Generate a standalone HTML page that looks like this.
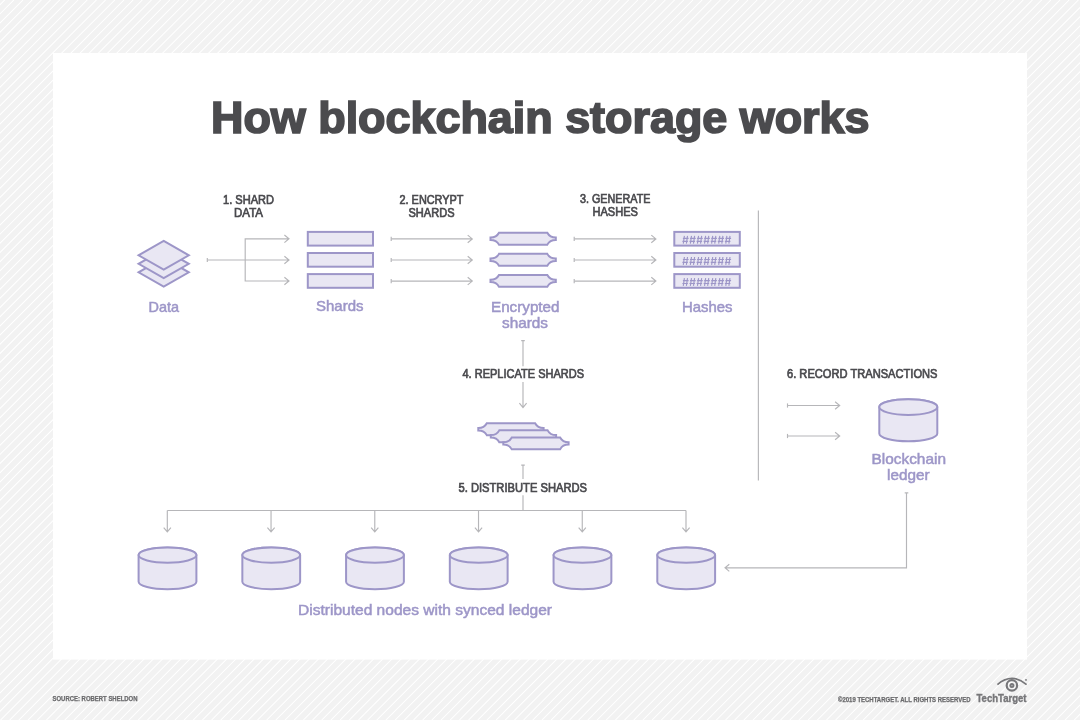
<!DOCTYPE html>
<html><head><meta charset="utf-8"><style>
html,body{margin:0;padding:0;width:1080px;height:720px;overflow:hidden;background:#f2f2f2}
svg{display:block;font-family:"Liberation Sans",sans-serif;will-change:transform}
</style></head><body>
<svg width="1080" height="720" viewBox="0 0 1080 720">
<rect width="1080" height="720" fill="#f2f2f2"/>
<path d="M-22.83 0L-742.83 720M-13.65 0L-733.65 720M-4.48 0L-724.48 720M4.70 0L-715.30 720M13.88 0L-706.12 720M23.05 0L-696.95 720M32.23 0L-687.77 720M41.41 0L-678.59 720M50.58 0L-669.41 720M59.76 0L-660.24 720M68.94 0L-651.06 720M78.12 0L-641.88 720M87.29 0L-632.71 720M96.47 0L-623.53 720M105.65 0L-614.35 720M114.82 0L-605.18 720M124.00 0L-596.00 720M133.18 0L-586.82 720M142.35 0L-577.65 720M151.53 0L-568.47 720M160.71 0L-559.29 720M169.89 0L-550.11 720M179.06 0L-540.94 720M188.24 0L-531.76 720M197.42 0L-522.58 720M206.59 0L-513.41 720M215.77 0L-504.23 720M224.95 0L-495.05 720M234.12 0L-485.88 720M243.30 0L-476.70 720M252.48 0L-467.52 720M261.66 0L-458.34 720M270.83 0L-449.17 720M280.01 0L-439.99 720M289.19 0L-430.81 720M298.36 0L-421.64 720M307.54 0L-412.46 720M316.72 0L-403.28 720M325.89 0L-394.11 720M335.07 0L-384.93 720M344.25 0L-375.75 720M353.43 0L-366.57 720M362.60 0L-357.40 720M371.78 0L-348.22 720M380.96 0L-339.04 720M390.13 0L-329.87 720M399.31 0L-320.69 720M408.49 0L-311.51 720M417.67 0L-302.33 720M426.84 0L-293.16 720M436.02 0L-283.98 720M445.20 0L-274.80 720M454.37 0L-265.63 720M463.55 0L-256.45 720M472.73 0L-247.27 720M481.90 0L-238.10 720M491.08 0L-228.92 720M500.26 0L-219.74 720M509.44 0L-210.56 720M518.61 0L-201.39 720M527.79 0L-192.21 720M536.97 0L-183.03 720M546.14 0L-173.86 720M555.32 0L-164.68 720M564.50 0L-155.50 720M573.67 0L-146.33 720M582.85 0L-137.15 720M592.03 0L-127.97 720M601.21 0L-118.79 720M610.38 0L-109.62 720M619.56 0L-100.44 720M628.74 0L-91.26 720M637.91 0L-82.09 720M647.09 0L-72.91 720M656.27 0L-63.73 720M665.44 0L-54.56 720M674.62 0L-45.38 720M683.80 0L-36.20 720M692.98 0L-27.02 720M702.15 0L-17.85 720M711.33 0L-8.67 720M720.51 0L0.51 720M729.68 0L9.68 720M738.86 0L18.86 720M748.04 0L28.04 720M757.21 0L37.21 720M766.39 0L46.39 720M775.57 0L55.57 720M784.75 0L64.75 720M793.92 0L73.92 720M803.10 0L83.10 720M812.28 0L92.28 720M821.45 0L101.45 720M830.63 0L110.63 720M839.81 0L119.81 720M848.98 0L128.98 720M858.16 0L138.16 720M867.34 0L147.34 720M876.52 0L156.52 720M885.69 0L165.69 720M894.87 0L174.87 720M904.05 0L184.05 720M913.22 0L193.22 720M922.40 0L202.40 720M931.58 0L211.58 720M940.75 0L220.75 720M949.93 0L229.93 720M959.11 0L239.11 720M968.29 0L248.29 720M977.46 0L257.46 720M986.64 0L266.64 720M995.82 0L275.82 720M1004.99 0L284.99 720M1014.17 0L294.17 720M1023.35 0L303.35 720M1032.52 0L312.52 720M1041.70 0L321.70 720M1050.88 0L330.88 720M1060.06 0L340.06 720M1069.23 0L349.23 720M1078.41 0L358.41 720M1087.59 0L367.59 720M1096.76 0L376.76 720M1105.94 0L385.94 720M1115.12 0L395.12 720M1124.29 0L404.29 720M1133.47 0L413.47 720M1142.65 0L422.65 720M1151.83 0L431.83 720M1161.00 0L441.00 720M1170.18 0L450.18 720M1179.36 0L459.36 720M1188.53 0L468.53 720M1197.71 0L477.71 720M1206.89 0L486.89 720M1216.06 0L496.06 720M1225.24 0L505.24 720M1234.42 0L514.42 720M1243.59 0L523.59 720M1252.77 0L532.77 720M1261.95 0L541.95 720M1271.13 0L551.13 720M1280.30 0L560.30 720M1289.48 0L569.48 720M1298.66 0L578.66 720M1307.83 0L587.83 720M1317.01 0L597.01 720M1326.19 0L606.19 720M1335.36 0L615.36 720M1344.54 0L624.54 720M1353.72 0L633.72 720M1362.90 0L642.90 720M1372.07 0L652.07 720M1381.25 0L661.25 720M1390.43 0L670.43 720M1399.60 0L679.60 720M1408.78 0L688.78 720M1417.96 0L697.96 720M1427.13 0L707.13 720M1436.31 0L716.31 720M1445.49 0L725.49 720M1454.67 0L734.67 720M1463.84 0L743.84 720M1473.02 0L753.02 720M1482.20 0L762.20 720M1491.37 0L771.37 720M1500.55 0L780.55 720M1509.73 0L789.73 720M1518.90 0L798.90 720M1528.08 0L808.08 720M1537.26 0L817.26 720M1546.44 0L826.44 720M1555.61 0L835.61 720M1564.79 0L844.79 720M1573.97 0L853.97 720M1583.14 0L863.14 720M1592.32 0L872.32 720M1601.50 0L881.50 720M1610.67 0L890.67 720M1619.85 0L899.85 720M1629.03 0L909.03 720M1638.21 0L918.21 720M1647.38 0L927.38 720M1656.56 0L936.56 720M1665.74 0L945.74 720M1674.91 0L954.91 720M1684.09 0L964.09 720M1693.27 0L973.27 720M1702.44 0L982.44 720M1711.62 0L991.62 720M1720.80 0L1000.80 720M1729.98 0L1009.98 720M1739.15 0L1019.15 720M1748.33 0L1028.33 720M1757.51 0L1037.51 720M1766.68 0L1046.68 720M1775.86 0L1055.86 720M1785.04 0L1065.04 720M1794.21 0L1074.21 720M1803.39 0L1083.39 720" stroke="#ffffff" stroke-width="1.05" fill="none"/>
<rect x="53" y="53" width="974" height="606.6" fill="#ffffff"/>
<g fill="none" stroke="#b6b6b9" stroke-width="1.15"><path d="M207.3 260H289M284.4 256.2L289 260L284.4 263.8"/><path d="M207.3 257.9V262.1"/><path d="M289 238.8H245.2V281H289M284.4 235L289 238.8L284.4 242.6M284.4 277.2L289 281L284.4 284.8"/><path d="M391.2 238.9H472.3M467.7 235.1L472.3 238.9L467.7 242.70000000000002"/><path d="M391.2 236.8V241.0"/><path d="M574.2 238.9H655.9M651.3 235.1L655.9 238.9L651.3 242.70000000000002"/><path d="M574.2 236.8V241.0"/><path d="M391.2 260H472.3M467.7 256.2L472.3 260L467.7 263.8"/><path d="M391.2 257.9V262.1"/><path d="M574.2 260H655.9M651.3 256.2L655.9 260L651.3 263.8"/><path d="M574.2 257.9V262.1"/><path d="M391.2 281.1H472.3M467.7 277.3L472.3 281.1L467.7 284.90000000000003"/><path d="M391.2 279.0V283.20000000000005"/><path d="M574.2 281.1H655.9M651.3 277.3L655.9 281.1L651.3 284.90000000000003"/><path d="M574.2 279.0V283.20000000000005"/><path d="M521.2 340.6H524.8M523 340.6V366.3M523 382V407.5M519.4 403.2L523 407.5L526.6 403.2"/><path d="M521.2 465.1H524.8M523 465.1V479M523 495.2V510.3M167.3 510.5H686"/><path d="M167.3 510.5V531.9M163.70000000000002 527.6L167.3 531.9L170.9 527.6"/><path d="M271.04 510.5V531.9M267.44 527.6L271.04 531.9L274.64000000000004 527.6"/><path d="M374.78 510.5V531.9M371.17999999999995 527.6L374.78 531.9L378.38 527.6"/><path d="M478.52 510.5V531.9M474.91999999999996 527.6L478.52 531.9L482.12 527.6"/><path d="M582.26 510.5V531.9M578.66 527.6L582.26 531.9L585.86 527.6"/><path d="M686.0 510.5V531.9M682.4 527.6L686.0 531.9L689.6 527.6"/><path d="M787.5 405.5H839.7M835.1 401.7L839.7 405.5L835.1 409.3"/><path d="M787.5 403.4V407.6"/><path d="M787.5 436.0H839.7M835.1 432.2L839.7 436.0L835.1 439.8"/><path d="M787.5 433.9V438.1"/><path d="M904.7 492.9H908.3M906.5 492.9V567.8H725M729.3 564.2L725 567.8L729.3 571.4"/></g>
<path d="M758.4 210.6V480.6" stroke="#b9b9bc" stroke-width="1.2"/>
<g fill="#e9e7f3" stroke="#9d96c8" stroke-width="2"><path d="M163.7 257.9L188.8 272.29999999999995L163.7 286.7L138.6 272.29999999999995Z"/><path d="M163.7 249.4L188.8 263.8L163.7 278.2L138.6 263.8Z"/><path d="M163.7 240.9L188.8 255.3L163.7 269.7L138.6 255.3Z"/><rect x="307.8" y="231.9" width="65.2" height="13.7"/><rect x="307.8" y="253.0" width="65.2" height="13.7"/><rect x="307.8" y="274.1" width="65.2" height="13.7"/><rect x="674.3" y="231.9" width="65.5" height="13.7"/><rect x="674.3" y="253.0" width="65.5" height="13.7"/><rect x="674.3" y="274.1" width="65.5" height="13.7"/><path d="M490.5 237.50Q496.5 237.50 499.00 232.75H547.30Q549.80 237.50 555.80 237.50V239.90Q549.80 239.90 547.30 244.65H499.00Q496.5 239.90 490.5 239.90Z"/><path d="M490.5 258.60Q496.5 258.60 499.00 253.85H547.30Q549.80 258.60 555.80 258.60V261.00Q549.80 261.00 547.30 265.75H499.00Q496.5 261.00 490.5 261.00Z"/><path d="M490.5 279.70Q496.5 279.70 499.00 274.95H547.30Q549.80 279.70 555.80 279.70V282.10Q549.80 282.10 547.30 286.85H499.00Q496.5 282.10 490.5 282.10Z"/><path d="M478.3 428.00Q484.3 428.00 486.80 423.25H535.10Q537.60 428.00 543.60 428.00V430.40Q537.60 430.40 535.10 435.15H486.80Q484.3 430.40 478.3 430.40Z"/><path d="M490.8 435.10Q496.8 435.10 499.30 430.35H547.60Q550.10 435.10 556.10 435.10V437.50Q550.10 437.50 547.60 442.25H499.30Q496.8 437.50 490.8 437.50Z"/><path d="M503.3 442.20Q509.3 442.20 511.80 437.45H560.10Q562.60 442.20 568.60 442.20V444.60Q562.60 444.60 560.10 449.35H511.80Q509.3 444.60 503.3 444.60Z"/><path d="M138.6 555.1V581.6999999999999A28.9 7.6 0 0 0 196.4 581.6999999999999V555.1A28.9 7.6 0 0 0 138.6 555.1Z"/><ellipse cx="167.5" cy="555.1" rx="28.9" ry="7.6"/><path d="M242.34 555.1V581.6999999999999A28.9 7.6 0 0 0 300.14 581.6999999999999V555.1A28.9 7.6 0 0 0 242.34 555.1Z"/><ellipse cx="271.24" cy="555.1" rx="28.9" ry="7.6"/><path d="M346.08000000000004 555.1V581.6999999999999A28.9 7.6 0 0 0 403.88 581.6999999999999V555.1A28.9 7.6 0 0 0 346.08000000000004 555.1Z"/><ellipse cx="374.98" cy="555.1" rx="28.9" ry="7.6"/><path d="M449.82000000000005 555.1V581.6999999999999A28.9 7.6 0 0 0 507.62 581.6999999999999V555.1A28.9 7.6 0 0 0 449.82000000000005 555.1Z"/><ellipse cx="478.72" cy="555.1" rx="28.9" ry="7.6"/><path d="M553.5600000000001 555.1V581.6999999999999A28.9 7.6 0 0 0 611.36 581.6999999999999V555.1A28.9 7.6 0 0 0 553.5600000000001 555.1Z"/><ellipse cx="582.46" cy="555.1" rx="28.9" ry="7.6"/><path d="M657.3000000000001 555.1V581.6999999999999A28.9 7.6 0 0 0 715.1 581.6999999999999V555.1A28.9 7.6 0 0 0 657.3000000000001 555.1Z"/><ellipse cx="686.2" cy="555.1" rx="28.9" ry="7.6"/><path d="M879.3 407.1V433.5A29 7.8 0 0 0 937.3 433.5V407.1A29 7.8 0 0 0 879.3 407.1Z"/><ellipse cx="908.3" cy="407.1" rx="29" ry="7.8"/></g>
<path d="M682.90 238.40H688.60M682.40 241.30H687.90M684.40 235.90L683.30 243.70M687.50 235.90L686.40 243.70M689.98 238.40H695.68M689.48 241.30H694.98M691.48 235.90L690.38 243.70M694.58 235.90L693.48 243.70M697.06 238.40H702.76M696.56 241.30H702.06M698.56 235.90L697.46 243.70M701.66 235.90L700.56 243.70M704.14 238.40H709.84M703.64 241.30H709.14M705.64 235.90L704.54 243.70M708.74 235.90L707.64 243.70M711.22 238.40H716.92M710.72 241.30H716.22M712.72 235.90L711.62 243.70M715.82 235.90L714.72 243.70M718.30 238.40H724.00M717.80 241.30H723.30M719.80 235.90L718.70 243.70M722.90 235.90L721.80 243.70M725.38 238.40H731.08M724.88 241.30H730.38M726.88 235.90L725.78 243.70M729.98 235.90L728.88 243.70M682.90 259.50H688.60M682.40 262.40H687.90M684.40 257.00L683.30 264.80M687.50 257.00L686.40 264.80M689.98 259.50H695.68M689.48 262.40H694.98M691.48 257.00L690.38 264.80M694.58 257.00L693.48 264.80M697.06 259.50H702.76M696.56 262.40H702.06M698.56 257.00L697.46 264.80M701.66 257.00L700.56 264.80M704.14 259.50H709.84M703.64 262.40H709.14M705.64 257.00L704.54 264.80M708.74 257.00L707.64 264.80M711.22 259.50H716.92M710.72 262.40H716.22M712.72 257.00L711.62 264.80M715.82 257.00L714.72 264.80M718.30 259.50H724.00M717.80 262.40H723.30M719.80 257.00L718.70 264.80M722.90 257.00L721.80 264.80M725.38 259.50H731.08M724.88 262.40H730.38M726.88 257.00L725.78 264.80M729.98 257.00L728.88 264.80M682.90 280.60H688.60M682.40 283.50H687.90M684.40 278.10L683.30 285.90M687.50 278.10L686.40 285.90M689.98 280.60H695.68M689.48 283.50H694.98M691.48 278.10L690.38 285.90M694.58 278.10L693.48 285.90M697.06 280.60H702.76M696.56 283.50H702.06M698.56 278.10L697.46 285.90M701.66 278.10L700.56 285.90M704.14 280.60H709.84M703.64 283.50H709.14M705.64 278.10L704.54 285.90M708.74 278.10L707.64 285.90M711.22 280.60H716.92M710.72 283.50H716.22M712.72 278.10L711.62 285.90M715.82 278.10L714.72 285.90M718.30 280.60H724.00M717.80 283.50H723.30M719.80 278.10L718.70 285.90M722.90 278.10L721.80 285.90M725.38 280.60H731.08M724.88 283.50H730.38M726.88 278.10L725.78 285.90M729.98 278.10L728.88 285.90" fill="none" stroke="#9d96c8" stroke-width="1.15"/>
<text x="211.0" y="132.6" font-size="43.5" font-weight="bold" fill="#4b4b4e" stroke="#4b4b4e" stroke-width="1.7" textLength="658.5" lengthAdjust="spacingAndGlyphs" >How blockchain storage works</text><text x="223.0" y="203.9" font-size="12.8" font-weight="normal" fill="#4a4a4e" stroke="#4a4a4e" stroke-width="0.7" textLength="51.0" lengthAdjust="spacingAndGlyphs" >1. SHARD</text><text x="234.0" y="216.7" font-size="12.8" font-weight="normal" fill="#4a4a4e" stroke="#4a4a4e" stroke-width="0.7" textLength="29.0" lengthAdjust="spacingAndGlyphs" >DATA</text><text x="399.5" y="203.75" font-size="12.8" font-weight="normal" fill="#4a4a4e" stroke="#4a4a4e" stroke-width="0.7" textLength="64.0" lengthAdjust="spacingAndGlyphs" >2. ENCRYPT</text><text x="408.5" y="216.7" font-size="12.8" font-weight="normal" fill="#4a4a4e" stroke="#4a4a4e" stroke-width="0.7" textLength="46.0" lengthAdjust="spacingAndGlyphs" >SHARDS</text><text x="580.0" y="202.8" font-size="12.8" font-weight="normal" fill="#4a4a4e" stroke="#4a4a4e" stroke-width="0.7" textLength="70.5" lengthAdjust="spacingAndGlyphs" >3. GENERATE</text><text x="592.5" y="215.8" font-size="12.8" font-weight="normal" fill="#4a4a4e" stroke="#4a4a4e" stroke-width="0.7" textLength="45.5" lengthAdjust="spacingAndGlyphs" >HASHES</text><text x="462.5" y="378.0" font-size="12.8" font-weight="normal" fill="#4a4a4e" stroke="#4a4a4e" stroke-width="0.7" textLength="121.5" lengthAdjust="spacingAndGlyphs" >4. REPLICATE SHARDS</text><text x="458.5" y="492.0" font-size="12.8" font-weight="normal" fill="#4a4a4e" stroke="#4a4a4e" stroke-width="0.7" textLength="128.5" lengthAdjust="spacingAndGlyphs" >5. DISTRIBUTE SHARDS</text><text x="787.0" y="377.7" font-size="12.8" font-weight="normal" fill="#4a4a4e" stroke="#4a4a4e" stroke-width="0.7" textLength="150.5" lengthAdjust="spacingAndGlyphs" >6. RECORD TRANSACTIONS</text><text x="148.5" y="311.9" font-size="14.5" font-weight="normal" fill="#9d96c8" stroke="#9d96c8" stroke-width="0.5" textLength="30.5" lengthAdjust="spacingAndGlyphs" >Data</text><text x="316.0" y="310.9" font-size="14.5" font-weight="normal" fill="#9d96c8" stroke="#9d96c8" stroke-width="0.5" textLength="47.5" lengthAdjust="spacingAndGlyphs" >Shards</text><text x="491.0" y="311.9" font-size="14.5" font-weight="normal" fill="#9d96c8" stroke="#9d96c8" stroke-width="0.5" textLength="68.5" lengthAdjust="spacingAndGlyphs" >Encrypted</text><text x="502.0" y="327.6" font-size="14.5" font-weight="normal" fill="#9d96c8" stroke="#9d96c8" stroke-width="0.5" textLength="46.0" lengthAdjust="spacingAndGlyphs" >shards</text><text x="682.0" y="311.8" font-size="14.5" font-weight="normal" fill="#9d96c8" stroke="#9d96c8" stroke-width="0.5" textLength="50.5" lengthAdjust="spacingAndGlyphs" >Hashes</text><text x="871.5" y="463.7" font-size="14.5" font-weight="normal" fill="#9d96c8" stroke="#9d96c8" stroke-width="0.5" textLength="74.5" lengthAdjust="spacingAndGlyphs" >Blockchain</text><text x="887.0" y="479.9" font-size="14.5" font-weight="normal" fill="#9d96c8" stroke="#9d96c8" stroke-width="0.5" textLength="42.5" lengthAdjust="spacingAndGlyphs" >ledger</text><text x="298.0" y="614.9" font-size="14.5" font-weight="normal" fill="#9d96c8" stroke="#9d96c8" stroke-width="0.5" textLength="254.0" lengthAdjust="spacingAndGlyphs" >Distributed nodes with synced ledger</text><text x="52.5" y="700.8" font-size="6.7" font-weight="bold" fill="#6a6a6c" stroke="#6a6a6c" stroke-width="0.25" textLength="85.0" lengthAdjust="spacingAndGlyphs" >SOURCE: ROBERT SHELDON</text><text x="838.0" y="701.7" font-size="6.7" font-weight="bold" fill="#6a6a6c" stroke="#6a6a6c" stroke-width="0.25" textLength="132.5" lengthAdjust="spacingAndGlyphs" >©2019 TECHTARGET. ALL RIGHTS RESERVED</text><text x="976.5" y="701.6" font-size="11.5" font-weight="bold" fill="#77777a" stroke="#77777a" stroke-width="0.4" textLength="50.0" lengthAdjust="spacingAndGlyphs" >TechTarget</text>
<g fill="none" stroke="#77777a"><path d="M997.4 684.6Q1012 672.3 1026.6 684.6" stroke-width="1.7"/><circle cx="1011.9" cy="685.4" r="5.2" stroke-width="2.2"/></g><circle cx="1011.9" cy="685.4" r="2.5" fill="#77777a"/><path d="M1011 685.6H1012.8" stroke="#bdbdbf" stroke-width="0.7"/><circle cx="1026" cy="679.9" r="0.9" fill="#77777a"/>
</svg>
</body></html>
